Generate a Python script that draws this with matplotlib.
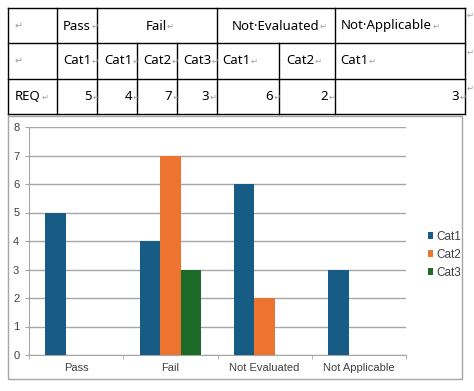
import numpy as np
import matplotlib.pyplot as plt
from matplotlib.lines import Line2D
from matplotlib.patches import Rectangle

# data
categories = ["Pass", "Fail", "Not Evaluated", "Not Applicable"]
series = ["Cat1", "Cat2", "Cat3"]
cat1 = [5, 4, 6, 3]
cat2 = [0, 7, 2, 0]
cat3 = [0, 3, 0, 0]
colors = ["#175c84", "#ec7430", "#1c6b28"]

W, H = 474, 391
fig = plt.figure(figsize=(W / 100, H / 100), dpi=100)
fig.patch.set_facecolor("white")

# full-figure overlay in pixel coords for the table
page = fig.add_axes([0, 0, 1, 1])
page.set_xlim(0, W)
page.set_ylim(H, 0)
page.axis("off")

tfont = ["Noto Sans", "DejaVu Sans"]
ret = "\u21b5"
grey = "#a0a0a0"
lw = 1.0


def hline(x0, x1, y):
    page.add_line(Line2D([x0, x1], [y, y], color="black", lw=lw))


def vline(x, y0, y1):
    page.add_line(Line2D([x, x], [y0, y1], color="black", lw=lw))


def cell(x, y, s, ha="left", mark=True):
    t = page.text(x, y, s, ha=ha, va="center", fontsize=9.5, family=tfont, color="black")
    if mark:
        page.annotate(ret, xy=(1, 0.5), xycoords=t, xytext=(0.3, 0),
                      textcoords="offset points", va="center", ha="left",
                      fontsize=6, color=grey, family="DejaVu Sans")
    return t


rows = [8, 43, 79, 114]
left, right = 8, 465
for y in rows:
    hline(left, right, y)
vline(left, rows[0], rows[3])
vline(right, rows[0], rows[3])
for x in [57, 97, 217, 335]:
    vline(x, rows[0], rows[3])
for x in [137, 177, 279]:
    vline(x, rows[1], rows[3])

# header row
page.text(15, 26, ret, fontsize=7, color=grey, va="center", family="DejaVu Sans")
cell(63, 26, "Pass")
cell(156, 26, "Fail", ha="center")
cell(232, 26, "Not\u00b7Evaluated")
cell(341, 26, "Not\u00b7Applicable")
# sub header row
page.text(15, 61, ret, fontsize=7, color=grey, va="center", family="DejaVu Sans")
sub_x = [63, 104, 143, 183, 222, 286, 340]
sub_lab = ["Cat1", "Cat1", "Cat2", "Cat3", "Cat1", "Cat2", "Cat1"]
for x, s in zip(sub_x, sub_lab):
    cell(x, 61, s)
# values row
cell(15, 97, "REQ")
vals = [cat1[0], cat1[1], cat2[1], cat3[1], cat1[2], cat2[2], cat1[3]]
val_x = [92, 132, 172, 209, 273, 328, 459]
for x, v in zip(val_x, vals):
    cell(x, 97, str(v), ha="right")
for y in [15, 52, 88]:
    page.text(467, y, ret, fontsize=6, color=grey, va="center", family="DejaVu Sans")

# chart frame
page.add_patch(Rectangle((8, 116), 454, 263, fill=False, ec="#a6a6a6", lw=1))

# bar chart
x0, x1, yb, yt = 29, 406, 355, 127
ax = fig.add_axes([x0 / W, 1 - yb / H, (x1 - x0) / W, (yb - yt) / H])
ax.set_zorder(2)
ax.patch.set_alpha(0)
x = np.arange(len(categories))
bw = 0.217
for i, (name, vals_s) in enumerate(zip(series, [cat1, cat2, cat3])):
    ax.bar(x + (i - 1) * bw, vals_s, width=bw, color=colors[i], label=name, zorder=3)

ax.set_xlim(-0.5, len(categories) - 0.5)
ax.set_ylim(0, 8)
ax.set_yticks(range(0, 9))
ax.yaxis.grid(True, color="#a6a6a6", lw=1)
ax.set_axisbelow(True)
for s in ["top", "right"]:
    ax.spines[s].set_visible(False)
ax.spines["left"].set_color("#a6a6a6")
ax.spines["bottom"].set_color("#a6a6a6")
ax.set_xticks(x)
ax.set_xticklabels(categories)
ax.set_xticks(np.arange(-0.5, len(categories)), minor=True)
ax.tick_params(axis="x", which="major", length=0, pad=6, labelsize=8, labelcolor="#404040")
ax.tick_params(axis="x", which="minor", length=3, color="#a6a6a6")
ax.tick_params(axis="y", length=3, color="#a6a6a6", labelsize=8, labelcolor="#404040", pad=4)
for t in ax.get_xticklabels() + ax.get_yticklabels():
    t.set_family(["Liberation Sans", "DejaVu Sans"])

leg = ax.legend(loc="center left", bbox_to_anchor=(1.03, 0.44), frameon=False,
                handlelength=0.45, handleheight=0.45, handletextpad=0.3,
                labelspacing=0.5,
                prop={"family": ["Liberation Sans", "DejaVu Sans"], "size": 8.5})
for t in leg.get_texts():
    t.set_color("#404040")

fig.savefig("out.png", dpi=100)
